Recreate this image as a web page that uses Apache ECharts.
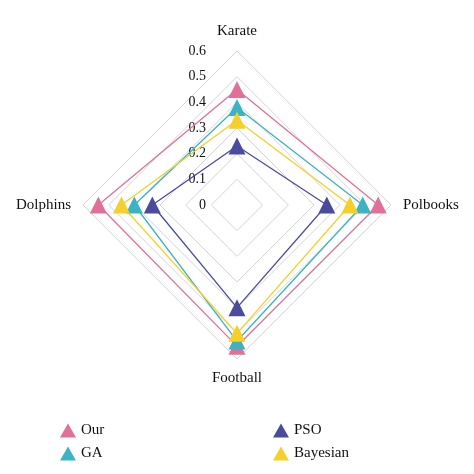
<!DOCTYPE html><html><head><meta charset="utf-8"><script src="https://cdn.jsdelivr.net/npm/echarts@6/dist/echarts.min.js"></script></head><body style="margin:0"><div id="c" style="width:474px;height:474px"></div><script>
const indicators=['Karate','Dolphins','Football','Polbooks'];
const ticks=[0,0.1,0.2,0.3,0.4,0.5,0.6];
const our=[0.45,0.54,0.55,0.55];
const ga=[0.38,0.40,0.53,0.49];
const pso=[0.23,0.33,0.40,0.35];
const bay=[0.33,0.45,0.50,0.44];
const names=['Our','GA','PSO','Bayesian'];
const colors=['#e0709a','#3bb3c3','#4b4b9e','#f5cf2a'];
const vals=[our,ga,pso,bay];
const F='Liberation Serif';
const chart=echarts.init(document.getElementById('c'));
chart.setOption({
 animation:false,
 radar:{center:[237,205],radius:154,startAngle:90,shape:'polygon',splitNumber:6,
  indicator:indicators.map(n=>({name:n,min:0,max:ticks[ticks.length-1]})),
  axisName:{color:'#111',fontFamily:F,fontSize:15},nameGap:12,
  splitLine:{lineStyle:{color:'#d4d4d4'}},splitArea:{show:false},
  axisLine:{show:false},axisLabel:{show:false}},
 grid:{left:214,top:51,width:1,height:154},
 xAxis:{show:false},
 yAxis:{min:0,max:0.6,interval:0.1,axisLine:{show:false},axisTick:{show:false},splitLine:{show:false},
  axisLabel:{color:'#111',fontFamily:F,fontSize:14,formatter:v=>String(+v.toFixed(1))}},
 legend:[
  {left:55,top:418,orient:'vertical',itemGap:8,data:['Our','GA'],icon:'triangle',itemWidth:16,itemHeight:14,textStyle:{fontFamily:F,fontSize:15,color:'#111'}},
  {left:268,top:418,orient:'vertical',itemGap:8,data:['PSO','Bayesian'],icon:'triangle',itemWidth:16,itemHeight:14,textStyle:{fontFamily:F,fontSize:15,color:'#111'}}],
 series:[{type:'radar',symbol:'triangle',symbolSize:17,
  data:names.map((n,i)=>({name:n,value:vals[i],itemStyle:{color:colors[i]},lineStyle:{color:colors[i],width:1.3}}))}]
});
</script></body></html>
